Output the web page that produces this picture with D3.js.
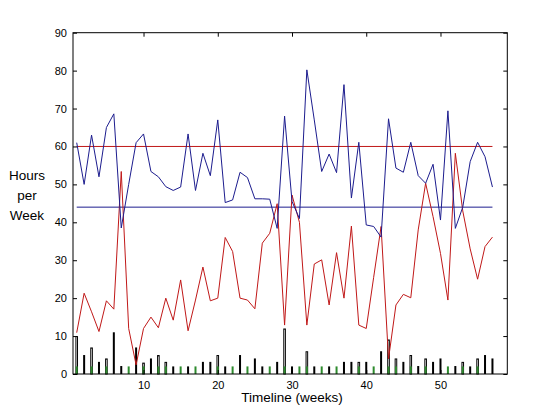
<!DOCTYPE html>
<html><head><meta charset="utf-8">
<script src="https://cdn.jsdelivr.net/npm/d3@7"></script>
<style>body{margin:0;background:#fff}svg{display:block}text{font-family:"Liberation Sans",Arial,sans-serif}</style>
</head><body>
<script>
const weeks = d3.range(1, 58);
const hoursBlue = [61,50,63,52,65,68.6,38.5,50,61,63.3,53.4,52,49.4,48.4,49.3,63.3,48.4,58.2,52.3,67,
  45.2,45.9,53.2,51.8,46.2,46.2,46.1,38.4,68,45.5,41,80.2,67,53.4,58,53.1,76.3,46.4,61.1,39.3,
  38.9,36.1,67.3,54.3,53.2,61.1,52.3,50.3,55.3,40.6,69.4,38.4,44,56,61.1,57.3,49.3];
const hoursRed = [10.9,21.3,16.4,11.2,19.3,17.1,53.4,12,2.4,12,15,12.2,20,14.2,24.8,11.4,19.5,28.2,19.3,20,
  36,32.3,20,19.5,17.2,34.5,37.1,44.9,12.9,47.2,40,12.9,29,30.1,18.2,32,20,39,12.9,12,
  25.5,38.9,4,18.2,21,20.1,38,50.3,41.5,31.8,19.5,58.2,43,33,25,33.6,36.1];
// bar value per week and kind: "b" = black bar, "g" = green base (+ white outlined part above)
const barValues = [10,5,7,3.2,4.1,11,2.1,2,7,3,4.1,5,3.2,2,2,2,2,3.2,3.2,5,
  2,2,5,2,4.1,2,2,3.2,12,2,2,6,2,2,2,2,3.2,3.2,3.2,3.2,
  2,6,9.1,4.1,3.2,5,2.1,4.1,3.2,4.1,2,2.1,3.2,2,4.1,5,4.1];
const barKinds = ["g","b","g","b","g","b","b","g","b","g","b","g","g","b","g","b","g","b","b","g",
  "b","g","b","g","b","b","g","b","g","b","g","g","b","g","b","g","b","b","g","b",
  "g","b","g","g","b","g","b","g","b","b","g","b","g","b","g","b","b"];
const greenBase = 2;
const refRed = 60, refBlue = 44;
const yTicks = d3.range(0, 91, 10);
const xTicks = [10,20,30,40,50];

const W = 560, H = 420;
const svg = d3.select("body").append("svg").attr("width", W).attr("height", H);
const x = d3.scaleLinear().domain([0.5, 59]).range([73, 507.3]);
const y = d3.scaleLinear().domain([0, 90]).range([374, 32.7]);

const blueC = "#1c1c8e", redC = "#c01818";

// bars
const bw = 2.6;
const bars = svg.append("g");
weeks.forEach((w, i) => {
  const v = barValues[i];
  if (barKinds[i] === "b") {
    bars.append("rect").attr("x", x(w) - 1).attr("width", 2).attr("y", y(v)).attr("height", y(0) - y(v)).attr("fill", "#000");
  } else {
    if (v > greenBase + 0.05) {
      bars.append("rect").attr("x", x(w) - bw/2 + 0.5).attr("width", bw - 1).attr("y", y(v) + 0.5)
        .attr("height", y(0) - y(v) - 0.5).attr("fill", "#fff").attr("stroke", "#000").attr("stroke-width", 1);
    }
    bars.append("rect").attr("x", x(w) - 1).attr("width", 2).attr("y", y(greenBase)).attr("height", y(0) - y(greenBase)).attr("fill", "#2e8b2e");
  }
});

// reference lines
svg.append("line").attr("x1", x(1)).attr("x2", x(57)).attr("y1", y(refRed)).attr("y2", y(refRed)).attr("stroke", redC).attr("stroke-width", 1);
svg.append("line").attr("x1", x(1)).attr("x2", x(57)).attr("y1", y(refBlue)).attr("y2", y(refBlue)).attr("stroke", blueC).attr("stroke-width", 1);

const line = d3.line().x((d, i) => x(weeks[i])).y(d => y(d));
svg.append("path").datum(hoursRed).attr("d", line).attr("fill", "none").attr("stroke", redC).attr("stroke-width", 1);
svg.append("path").datum(hoursBlue).attr("d", line).attr("fill", "none").attr("stroke", blueC).attr("stroke-width", 1);

// axes
const fs = "11px";
const axL = svg.append("g").attr("transform", `translate(${x(0.5)},0)`)
  .call(d3.axisLeft(y).tickValues(yTicks).tickSize(-4).tickPadding(6));
const axR = svg.append("g").attr("transform", `translate(${x(59)},0)`)
  .call(d3.axisRight(y).tickValues(yTicks).tickSize(-4).tickFormat(""));
const axB = svg.append("g").attr("transform", `translate(0,${y(0)})`)
  .call(d3.axisBottom(x).tickValues(xTicks).tickSize(-4).tickPadding(7));
const axT = svg.append("g").attr("transform", `translate(0,${y(90)})`)
  .call(d3.axisTop(x).tickValues(xTicks).tickSize(-4).tickFormat(""));
[axL, axR, axB, axT].forEach(a => {
  a.select(".domain").attr("stroke", "#000").attr("d", null);
  a.selectAll("line").attr("stroke", "#000");
  a.selectAll("text").attr("font-size", fs).attr("fill", "#000").attr("font-family", "Liberation Sans, Arial, sans-serif");
});
svg.append("rect").attr("x", x(0.5)).attr("y", y(90)).attr("width", x(59) - x(0.5)).attr("height", y(0) - y(90))
  .attr("fill", "none").attr("stroke", "#000").attr("stroke-width", 1);

// labels
const yl = svg.append("text").attr("text-anchor", "middle").attr("font-size", "13.5px").attr("fill", "#000");
["Hours", "per", "Week"].forEach((t, i) => yl.append("tspan").attr("x", 27).attr("y", 180 + i * 20).text(t));
svg.append("text").attr("x", 292).attr("y", 402).attr("text-anchor", "middle").attr("font-size", "13.5px").attr("fill", "#000").text("Timeline (weeks)");
</script>
</body></html>
